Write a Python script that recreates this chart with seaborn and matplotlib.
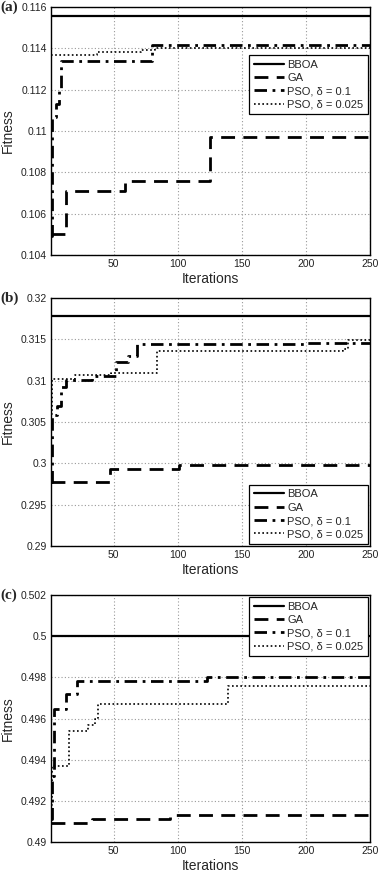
import matplotlib
matplotlib.use("Agg")
import matplotlib.pyplot as plt
import seaborn as sns
import pandas as pd

# step series: iteration where a new best value starts, and that value
# panel (a)
bboa_a_it = [1, 250]
bboa_a = [0.11555, 0.11555]
ga_a_it = [1, 13, 59, 125, 250]
ga_a = [0.1050, 0.1071, 0.1076, 0.1097, 0.1097]
pso1_a_it = [1, 2, 5, 7, 9, 80, 250]
pso1_a = [0.1049, 0.1107, 0.1113, 0.1120, 0.1134, 0.11415, 0.11415]
pso2_a_it = [1, 37, 71, 82, 250]
pso2_a = [0.1137, 0.1138, 0.11394, 0.1140, 0.1140]

# panel (b)
bboa_b_it = [1, 250]
bboa_b = [0.31786, 0.31786]
ga_b_it = [1, 47, 101, 250]
ga_b = [0.2978, 0.2993, 0.2998, 0.2998]
pso1_b_it = [1, 2, 6, 9, 13, 33, 52, 61, 68, 200, 250]
pso1_b = [0.2978, 0.3058, 0.3069, 0.3092, 0.3101, 0.31056, 0.3123, 0.3130, 0.31443, 0.3146, 0.3146]
pso2_b_it = [1, 2, 20, 48, 84, 229, 233, 250]
pso2_b = [0.3060, 0.3102, 0.3107, 0.3109, 0.3136, 0.3138, 0.3149, 0.3149]

# panel (c)
bboa_c_it = [1, 250]
bboa_c = [0.5000, 0.5000]
ga_c_it = [1, 33, 94, 250]
ga_c = [0.4909, 0.4911, 0.4913, 0.4913]
pso1_c_it = [1, 2, 3, 13, 21, 123, 250]
pso1_c = [0.4911, 0.4932, 0.49645, 0.4972, 0.4978, 0.4980, 0.4980]
pso2_c_it = [1, 2, 15, 30, 35, 38, 139, 250]
pso2_c = [0.4918, 0.4937, 0.4954, 0.4957, 0.4960, 0.4967, 0.4976, 0.4976]

labels = ["BBOA", "GA", "PSO, δ = 0.1", "PSO, δ = 0.025"]
xticks = [50, 100, 150, 200, 250]

panels = [
    ("(a)", [(bboa_a_it, bboa_a), (ga_a_it, ga_a), (pso1_a_it, pso1_a), (pso2_a_it, pso2_a)],
     (0.104, 0.116), [0.104, 0.106, 0.108, 0.11, 0.112, 0.114, 0.116],
     dict(loc="upper right", bbox_to_anchor=(1.0, 0.815))),
    ("(b)", [(bboa_b_it, bboa_b), (ga_b_it, ga_b), (pso1_b_it, pso1_b), (pso2_b_it, pso2_b)],
     (0.29, 0.32), [0.29, 0.295, 0.3, 0.305, 0.31, 0.315, 0.32],
     dict(loc="lower right", bbox_to_anchor=(1.0, 0.0))),
    ("(c)", [(bboa_c_it, bboa_c), (ga_c_it, ga_c), (pso1_c_it, pso1_c), (pso2_c_it, pso2_c)],
     (0.49, 0.502), [0.49, 0.492, 0.494, 0.496, 0.498, 0.5, 0.502],
     dict(loc="upper right", bbox_to_anchor=(1.0, 1.0))),
]

styles = [
    dict(linestyle="-", linewidth=1.6),
    dict(linestyle=(0, (5, 3)), linewidth=2.0),
    dict(linestyle=(0, (4.5, 2, 1, 2)), linewidth=2.0),
    dict(linestyle=(0, (1, 1.5)), linewidth=1.2),
]

sns.set_style("white")
plt.rcParams["font.family"] = ["Liberation Sans", "DejaVu Sans"]

fig = plt.figure(figsize=(3.79, 8.75), dpi=100)
boxes = [(0.7086, 0.2834), (0.376, 0.2834), (0.0377, 0.2823)]

for (tag, series, ylim, yticks, leg), (b, h) in zip(panels, boxes):
    ax = fig.add_axes([0.1346, b, 0.8414, h])
    for (it, vals), lab, st in zip(series, labels, styles):
        df = pd.DataFrame({"Iterations": it, "Fitness": vals})
        sns.lineplot(data=df, x="Iterations", y="Fitness", ax=ax, color="black",
                     drawstyle="steps-post", label=lab, **st)
    ax.set_xlim(1, 250)
    ax.set_ylim(*ylim)
    ax.set_xticks(xticks)
    ax.set_yticks(yticks)
    ax.set_yticklabels([f"{v:g}" for v in yticks])
    ax.grid(True, color="#999999", linestyle=(0, (1, 2)), linewidth=0.8)
    ax.tick_params(direction="in", length=3, labelsize=7.5, colors="black",
                   labelcolor="#222222", pad=3)
    for sp in ax.spines.values():
        sp.set_color("black")
        sp.set_linewidth(1.0)
    ax.set_xlabel("Iterations", fontsize=10, labelpad=2)
    ax.set_ylabel("Fitness", fontsize=10, labelpad=4)
    lg = ax.legend(fontsize=8, frameon=True, fancybox=False, edgecolor="black",
                   framealpha=1, handlelength=2.7, borderaxespad=0.2,
                   labelspacing=0.3, handletextpad=0.3, **leg)
    lg.get_frame().set_linewidth(0.9)
    fig.text(0.0, b + h, tag, fontsize=11, fontweight="bold",
             family=["Liberation Serif", "DejaVu Serif"], va="center", ha="left")

fig.savefig("out.png", dpi=100)
